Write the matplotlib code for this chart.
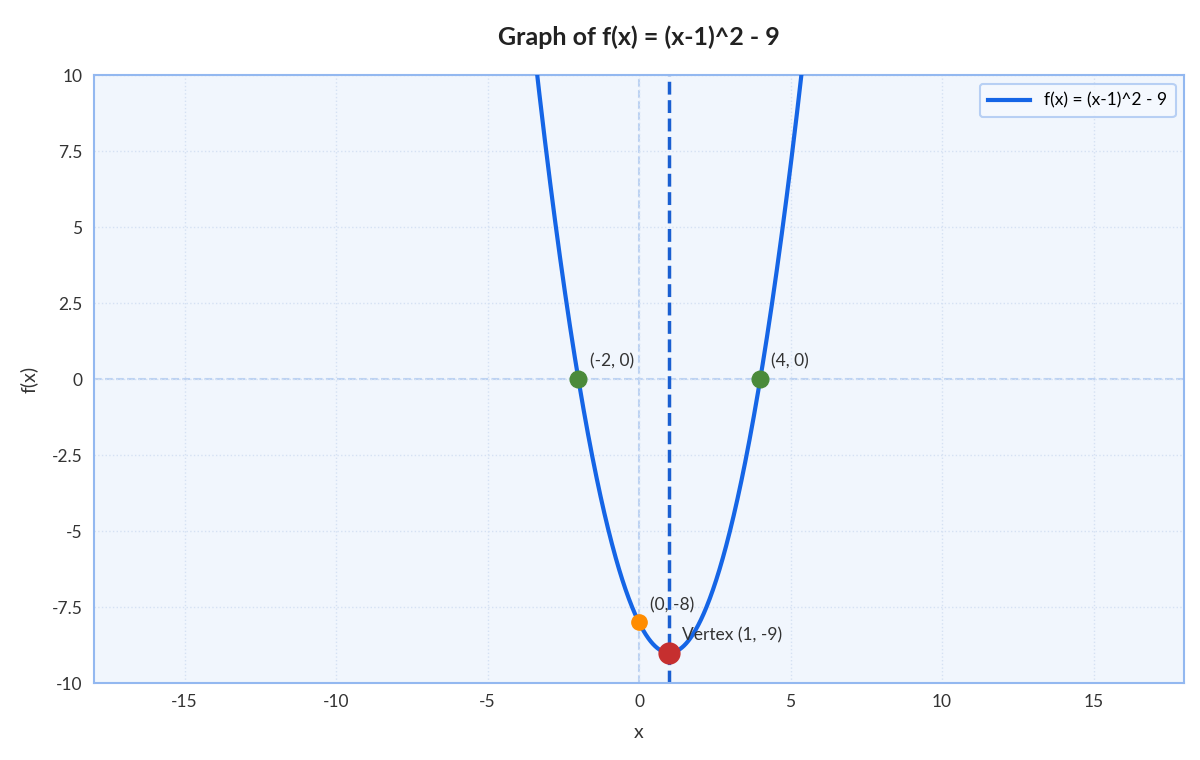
import numpy as np
import matplotlib
matplotlib.use("Agg")
import matplotlib.pyplot as plt
from matplotlib.ticker import FuncFormatter, MultipleLocator

plt.rcParams['font.family'] = ['Lato', 'DejaVu Sans']
plt.rcParams['axes.unicode_minus'] = False

# parabole f(x) = (x-h)^2 + k
h, k = 1, -9
x_min, x_max = -18, 18
y_min, y_max = -10, 10

racines_x = [-2, 4]
racines_y = [0, 0]
racines_labels = ["(-2, 0)", "(4, 0)"]
ordonnee_x, ordonnee_y = 0, -8
sommet_x, sommet_y = 1, -9

x = np.linspace(x_min, x_max, 2000)
y = (x - h) ** 2 + k

fig, ax = plt.subplots(figsize=(12, 7.6), dpi=100)
fig.subplots_adjust(left=0.078, right=0.987, top=0.901, bottom=0.101)
ax.set_facecolor("#f1f6fd")

ax.grid(True, linestyle=":", color="#d5e1f3", linewidth=1)
ax.axhline(0, color="#bcd2f2", linestyle="--", linewidth=1.5, zorder=1)
ax.axvline(0, color="#bcd2f2", linestyle="--", linewidth=1.5, zorder=1)
ax.axvline(sommet_x, color="#1a5fd1", linestyle="--", linewidth=2.5, zorder=2)

ax.plot(x, y, color="#1565e6", linewidth=3, label="f(x) = (x-1)^2 - 9", zorder=3)

ax.plot(racines_x, racines_y, "o", color="#4a8a3a", markersize=12, zorder=4)
for rx, ry, lab in zip(racines_x, racines_y, racines_labels):
    ax.annotate(lab, (rx, ry), xytext=(8, 9), textcoords="offset points",
                fontsize=12.5, color="#333333")
ax.plot(ordonnee_x, ordonnee_y, "o", color="#ff8c00", markersize=11, zorder=4)
ax.annotate("(0, -8)", (ordonnee_x, ordonnee_y), xytext=(8, 9),
            textcoords="offset points", fontsize=12.5, color="#333333")
ax.plot(sommet_x, sommet_y, "o", color="#c62f2f", markersize=15, zorder=5)
ax.annotate("Vertex (1, -9)", (sommet_x, sommet_y), xytext=(9, 9),
            textcoords="offset points", fontsize=12.5, color="#333333")

ax.set_xlim(x_min, x_max)
ax.set_ylim(y_min, y_max)
ax.xaxis.set_major_locator(MultipleLocator(5))
ax.yaxis.set_major_locator(MultipleLocator(2.5))
fmt = FuncFormatter(lambda v, p: "%g" % v)
ax.xaxis.set_major_formatter(fmt)
ax.yaxis.set_major_formatter(fmt)
ax.tick_params(length=0, labelsize=12.5, labelcolor="#333333", pad=8)

for s in ax.spines.values():
    s.set_color("#93b8f0")
    s.set_linewidth(1.5)

ax.set_xlabel("x", fontsize=14, color="#333333", labelpad=10)
ax.set_ylabel("f(x)", fontsize=14, color="#333333", labelpad=10)
ax.set_title("Graph of f(x) = (x-1)^2 - 9", fontsize=18, fontweight="bold",
             color="#222222", pad=22)

leg = ax.legend(loc="upper right", fontsize=12.5, frameon=True, fancybox=True,
                handlelength=2.4, borderpad=0.5)
leg.get_frame().set_edgecolor("#a9c6f2")
leg.get_frame().set_facecolor("#f5f9ff")
leg.get_frame().set_linewidth(1.5)

plt.savefig("out.png", dpi=100)
